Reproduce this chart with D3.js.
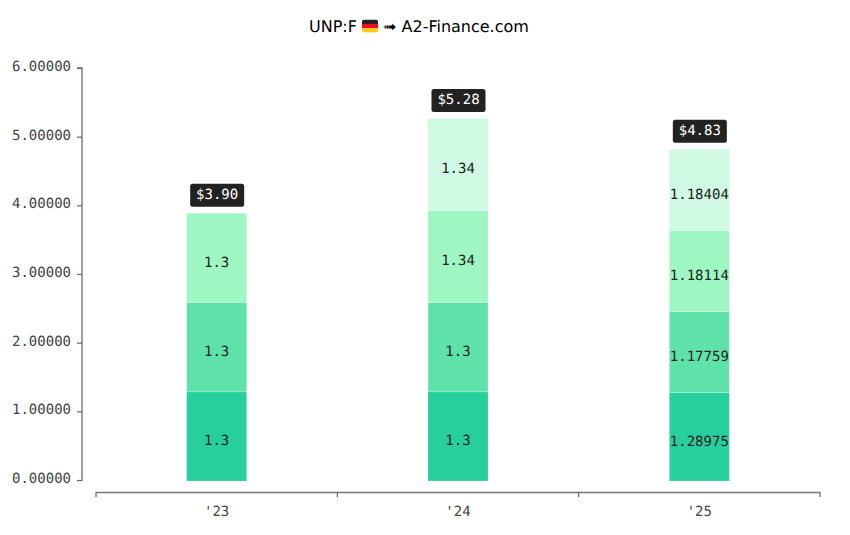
<!DOCTYPE html>
<html><head><meta charset="utf-8">
<script src="https://cdn.jsdelivr.net/npm/d3@7"></script>
<style>html,body{margin:0;background:#fff}svg{display:block}text{text-rendering:geometricPrecision}</style></head>
<body><div id="c"></div>
<script>
const categories = ["'23","'24","'25"];
const s1 = [1.3,1.3,1.28975];
const s2 = [1.3,1.3,1.17759];
const s3 = [1.3,1.34,1.18114];
const s4 = [0,1.34,1.18404];
const s1Labels = ["1.3","1.3","1.28975"];
const s2Labels = ["1.3","1.3","1.17759"];
const s3Labels = ["1.3","1.34","1.18114"];
const s4Labels = ["","1.34","1.18404"];
const totals = ["$3.90","$5.28","$4.83"];
const colors = ["#26cf9b","#5ee2aa","#9ef7c3","#cff9e3"];
const yTicks = [0,1,2,3,4,5,6];
const W=850,H=535;
const svg=d3.select("#c").append("svg").attr("width",W).attr("height",H);
const y=d3.scaleLinear().domain([0,6]).range([480,68]);
const x=d3.scaleBand().domain(categories).range([96,820]);
const mono="'DejaVu Sans Mono',monospace";
const series=[[s1,s1Labels],[s2,s2Labels],[s3,s3Labels],[s4,s4Labels]];
const bw=60, off=1;
const base=categories.map(()=>0);
series.forEach(([vals,labs],si)=>{
  const g=svg.append("g");
  categories.forEach((c,i)=>{
    if(!vals[i])return;
    const y0=y(base[i])+off,y1=y(base[i]+vals[i])+off;
    const cx=x(c)+x.bandwidth()/2;
    g.append("rect").attr("x",cx-bw/2).attr("y",y1).attr("width",bw).attr("height",y0-y1)
      .attr("fill",colors[si]).attr("stroke","#fff").attr("stroke-opacity",0.2).attr("stroke-width",1);
    g.append("text").attr("x",cx).attr("y",(y0+y1)/2+9).attr("text-anchor","middle")
      .attr("font-family",mono).attr("font-size",14).attr("fill","#222").text(labs[i]);
    base[i]+=vals[i];
  });
});
categories.forEach((c,i)=>{
  const cx=x(c)+x.bandwidth()/2, top=y(base[i])+off;
  svg.append("rect").attr("x",cx-26.5).attr("y",top-29.5).attr("width",54).attr("height",23).attr("rx",2.5).attr("fill","#222");
  svg.append("text").attr("x",cx+0.5).attr("y",top-14).attr("text-anchor","middle")
    .attr("font-family",mono).attr("font-size",14).attr("fill","#fff").text(totals[i]);
});
const ya=svg.append("g").attr("transform","translate(82,0)")
  .call(d3.axisLeft(y).tickValues(yTicks).tickFormat(d3.format(".5f")).tickSize(5).tickPadding(6));
ya.select(".domain").attr("stroke","#777").attr("stroke-width",1.4).attr("d","M-5,68H0V481");
ya.selectAll("line").attr("stroke","#666").attr("stroke-width",1.2);
ya.selectAll("text").attr("font-family",mono).attr("font-size",14).attr("fill","#444").attr("dy","0").attr("y",2.5);
svg.append("line").attr("x1",96).attr("x2",820).attr("y1",492.5).attr("y2",492.5).attr("stroke","#777").attr("stroke-width",1.4);
const edges=[0,1,2].map(i=>x(categories[i])).concat([x(categories[2])+x.bandwidth()]);
edges.forEach(e=>svg.append("line").attr("x1",e).attr("x2",e).attr("y1",492).attr("y2",497).attr("stroke","#666").attr("stroke-width",1.2));
categories.forEach(c=>svg.append("text").attr("x",x(c)+x.bandwidth()/2).attr("y",516).attr("text-anchor","middle")
  .attr("font-family",mono).attr("font-size",14).attr("fill","#444").text(c));
const sans="'DejaVu Sans',sans-serif";
svg.append("text").attr("x",309).attr("y",32).attr("font-family",sans).attr("font-size",16).attr("fill","#000").text("UNP:F");
const defs=svg.append("defs");
defs.append("clipPath").attr("id","fc").append("rect").attr("x",362).attr("y",19.5).attr("width",16).attr("height",13).attr("rx",2.5);
const fl=svg.append("g").attr("clip-path","url(#fc)");
["#222","#e8121f","#ffc81e"].forEach((k,i)=>fl.append("rect").attr("x",362).attr("y",19.5+i*13/3).attr("width",16).attr("height",13/3+0.2).attr("fill",k));
svg.append("text").attr("x",383).attr("y",32).attr("font-family",sans).attr("font-size",16).attr("fill","#000").text("➟");
svg.append("text").attr("x",401.5).attr("y",32).attr("font-family",sans).attr("font-size",16).attr("fill","#000").text("A2-Finance.com");
</script></body></html>
